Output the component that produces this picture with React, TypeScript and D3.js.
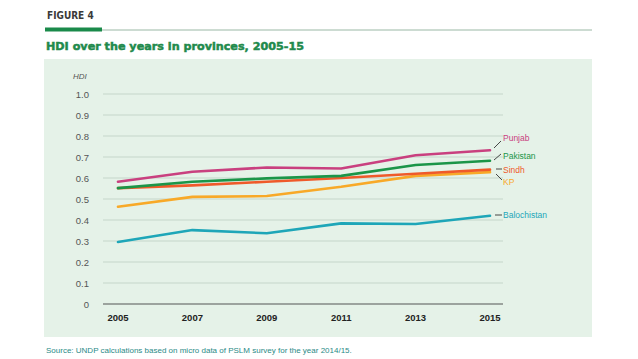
import React from "react";
import * as d3 from "d3";

const years = [2005, 2007, 2009, 2011, 2013, 2015];
const yTicks = [0, 0.1, 0.2, 0.3, 0.4, 0.5, 0.6, 0.7, 0.8, 0.9, 1.0];
const punjab = [0.582, 0.63, 0.65, 0.645, 0.708, 0.732];
const pakistan = [0.552, 0.582, 0.598, 0.61, 0.662, 0.682];
const sindh = [0.552, 0.565, 0.582, 0.6, 0.62, 0.64];
const kp = [0.463, 0.51, 0.514, 0.558, 0.61, 0.628];
const balochistan = [0.295, 0.352, 0.337, 0.384, 0.381, 0.42];
const seriesNames = ["KP", "Sindh", "Pakistan", "Punjab", "Balochistan"];

const W = 638, H = 359;

export default function App() {
  const x = d3.scaleLinear().domain([2005, 2015]).range([118, 490]);
  const y = d3.scaleLinear().domain([0, 1]).range([304, 94]);
  const line = d3.line<number>().x((_, i) => x(years[i])).y((d) => y(d));

  const series = [
    { name: seriesNames[0], values: kp, color: "#f8a928", labelDy: 182, lead: [[496, 174], [502, 180]] },
    { name: seriesNames[1], values: sindh, color: "#ef5a2a", labelDy: 170, lead: [[496, 169], [502, 169]] },
    { name: seriesNames[2], values: pakistan, color: "#1b9548", labelDy: 156, lead: [[494, 160], [501, 154]] },
    { name: seriesNames[3], values: punjab, color: "#c9407f", labelDy: 138, lead: [[494, 148], [501, 141]] },
    { name: seriesNames[4], values: balochistan, color: "#1ea6b8", labelDy: 215, lead: [[495, 215], [502, 215]] },
  ];

  return (
    <svg width={W} height={H} style={{ position: "absolute", left: 0, top: 0 }}>
      <rect x={0} y={0} width={W} height={H} fill="#ffffff" />
      <text x={47} y={19} fontFamily="Liberation Sans Narrow, DejaVu Sans Condensed, sans-serif" fontSize={10} fontWeight="bold" fill="#3a3a3a">FIGURE 4</text>
      <line x1={45} x2={592} y1={30} y2={30} stroke="#9ab8a5" strokeWidth={1} />
      <rect x={45} y={27.5} width={57} height={4} fill="#1a8a4a" />
      <text x={46} y={50} fontFamily="DejaVu Sans, sans-serif" fontSize={11} fontWeight="bold" fill="#1f8a4c" stroke="#1f8a4c" strokeWidth={0.5} textLength={258} lengthAdjust="spacingAndGlyphs">HDI over the years in provinces, 2005-15</text>
      <rect x={44} y={59} width={548} height={278} fill="#e5f2e8" />
      <text x={73} y={79} fontFamily="Liberation Sans, sans-serif" fontSize={8} fontStyle="italic" fill="#555">HDI</text>
      {yTicks.map((t) => (
        <g key={t}>
          <line x1={103} x2={503} y1={y(t)} y2={y(t)} stroke={t === 0 ? "#555" : "#c5d6ca"} strokeWidth={t === 0 ? 1.2 : 1} />
          <text x={89} y={y(t) + 3.5} textAnchor="end" fontFamily="Liberation Sans, sans-serif" fontSize={9.5} fill="#555">{t === 0 ? "0" : t.toFixed(1)}</text>
        </g>
      ))}
      {years.map((yr) => (
        <text key={yr} x={x(yr)} y={321} textAnchor="middle" fontFamily="Liberation Sans Narrow, Liberation Sans, sans-serif" fontSize={9.5} fontWeight="bold" fill="#222">{yr}</text>
      ))}
      {series.map((s) => (
        <g key={s.name}>
          <path d={line(s.values) || ""} fill="none" stroke={s.color} strokeWidth={2.6} strokeLinejoin="round" strokeLinecap="round" />
          <line x1={s.lead[0][0]} y1={s.lead[0][1]} x2={s.lead[1][0]} y2={s.lead[1][1]} stroke="#333" strokeWidth={0.9} />
          <text x={503} y={s.labelDy + 3} fontFamily="Liberation Sans Narrow, Liberation Sans, sans-serif" fontSize={8.5} fill={s.color}>{s.name}</text>
        </g>
      ))}
      <text x={46} y={353} fontFamily="Liberation Sans Narrow, Liberation Sans, sans-serif" fontSize={8} fill="#2a8a86">Source: UNDP calculations based on micro data of PSLM survey for the year 2014/15.</text>
    </svg>
  );
}
